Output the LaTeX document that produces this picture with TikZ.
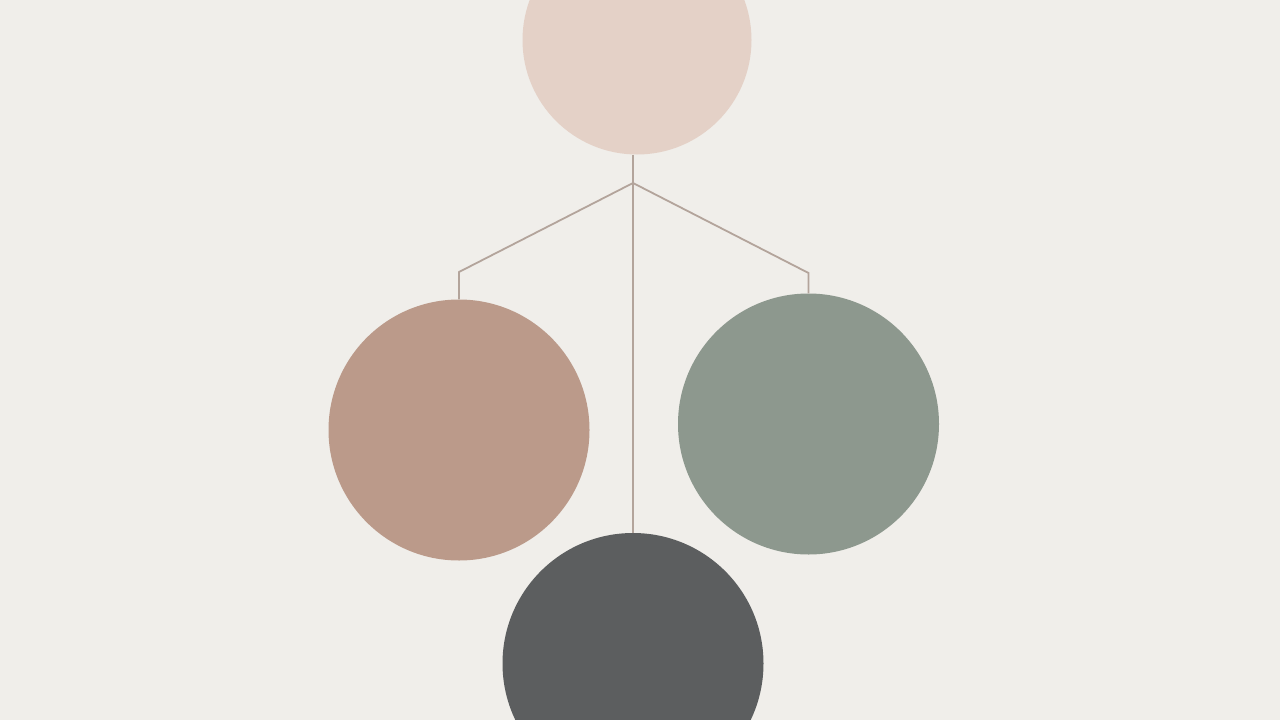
\documentclass[tikz,border=0pt]{standalone}
\definecolor{bgc}{HTML}{F0EEEA}
\definecolor{topc}{HTML}{E4D1C7}
\definecolor{leftc}{HTML}{BB9A8A}
\definecolor{rightc}{HTML}{8D988E}
\definecolor{botc}{HTML}{5C5E5F}
\definecolor{linec}{HTML}{B3A49B}
\tikzset{
  ball/.style={circle, inner sep=0pt, draw=none},
  link/.style={draw=linec, line width=1.8pt, line join=miter}
}
\begin{document}
\begin{tikzpicture}[x=1pt,y=-1pt]
\fill[bgc] (0,0) rectangle (1280,720);
\useasboundingbox (0,0) rectangle (1280,720);
\begin{scope}
\clip (0,0) rectangle (1280,720);
\node[ball, fill=topc, minimum size=229pt] (top) at (637,40) {};
\node[ball, fill=leftc, minimum size=261pt] (left) at (459,430) {};
\node[ball, fill=rightc, minimum size=261pt] (right) at (808.5,424) {};
\node[ball, fill=botc, minimum size=261pt] (bot) at (633,663.5) {};
\end{scope}
\coordinate (hub) at (633,183);
\coordinate (lbend) at (459,272);
\coordinate (rbend) at (808.5,273);
\draw[link] (top.south -| hub) -- (hub);
\draw[link] (hub) -- (lbend) -- (left.north);
\draw[link] (hub) -- (rbend) -- (right.north);
\draw[link] (hub) -- (bot.north -| hub);
\end{tikzpicture}
\end{document}
